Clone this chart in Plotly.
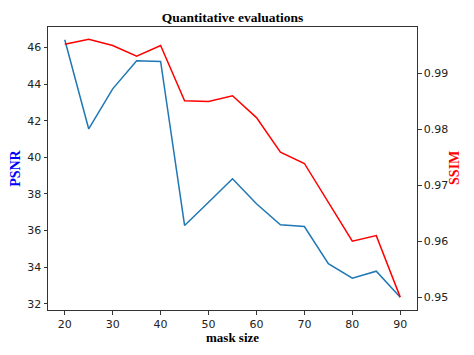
import plotly.graph_objects as go

mask_size = [20, 25, 30, 35, 40, 45, 50, 55, 60, 65, 70, 75, 80, 85, 90]
psnr = [46.42, 41.55, 43.74, 45.27, 45.24, 36.28, 37.55, 38.83, 37.46, 36.32, 36.22, 34.19, 33.40, 33.78, 32.36]
ssim = [0.9952, 0.9961, 0.9950, 0.9931, 0.9950, 0.9851, 0.9850, 0.9860, 0.9821, 0.9759, 0.9739, 0.9670, 0.9600, 0.9610, 0.9500]

x_ticks = [20, 30, 40, 50, 60, 70, 80, 90]
psnr_ticks = [32, 34, 36, 38, 40, 42, 44, 46]
ssim_ticks = [0.95, 0.96, 0.97, 0.98, 0.99]

fig = go.Figure()
fig.add_trace(go.Scatter(x=mask_size, y=psnr, mode="lines", line=dict(color="#1f77b4", width=1.5),
                         name="PSNR", yaxis="y"))
fig.add_trace(go.Scatter(x=mask_size, y=ssim, mode="lines", line=dict(color="#ff0000", width=1.5),
                         name="SSIM", yaxis="y2"))

tickfont = dict(family="DejaVu Sans", size=11, color="#222222")
axis_common = dict(showgrid=False, zeroline=False, showline=True, linecolor="#333333", linewidth=1,
                   ticks="outside", ticklen=3.5, tickcolor="#333333", tickfont=tickfont)

# The page places the figure 8px in from the window's top-left corner, so the
# figure is 8px smaller and its margins are shifted to match the reference.
W, H = 466, 347
fig.update_layout(
    width=W, height=H,
    margin=dict(l=40, r=57, t=19, b=45, autoexpand=False),
    paper_bgcolor="white", plot_bgcolor="white",
    showlegend=False,
    title=dict(text="<b>Quantitative evaluations</b>", x=0.5, xref="paper", xanchor="center",
               y=1 - 9 / H, yanchor="middle",
               font=dict(family="Liberation Serif", size=13.5, color="black")),
    xaxis=dict(range=[16.5, 93.5], tickvals=x_ticks, mirror=True, **axis_common),
    yaxis=dict(range=[31.66, 47.12], tickvals=psnr_ticks, **axis_common),
    yaxis2=dict(range=[0.9477, 0.9983], tickvals=ssim_ticks, overlaying="y", side="right",
                tickformat=".2f", **axis_common),
    annotations=[
        dict(text="<b>mask size</b>", xref="paper", yref="paper", x=0.5, y=-0.098,
             xanchor="center", yanchor="middle", showarrow=False,
             font=dict(family="Liberation Serif", size=13, color="black")),
        dict(text="<b>PSNR</b>", xref="paper", yref="paper", x=-0.087, y=0.502,
             xanchor="center", yanchor="middle", showarrow=False, textangle=-90,
             font=dict(family="Liberation Serif", size=14, color="#0000ff")),
        dict(text="<b>SSIM</b>", xref="paper", yref="paper", x=1.103, y=0.502,
             xanchor="center", yanchor="middle", showarrow=False, textangle=-90,
             font=dict(family="Liberation Serif", size=14, color="#ff0000")),
    ],
)

fig.write_html("out.html")
